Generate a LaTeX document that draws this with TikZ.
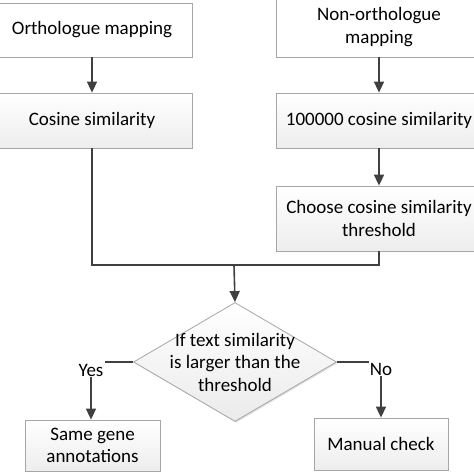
\documentclass[tikz,border=0pt]{standalone}
\usepackage{fontspec}
\setmainfont{Carlito}
\usetikzlibrary{arrows.meta,shapes.geometric,shadows}

\definecolor{boxline}{HTML}{A6A6A6}
\definecolor{arrowgray}{HTML}{404040}

\begin{document}
\begin{tikzpicture}[x=1pt,y=-1pt,
  font=\fontsize{19}{22.5}\selectfont,
  box/.style={draw=boxline, line width=0.8pt, align=center, inner sep=0pt,
    top color=white, bottom color=gray!14,
    drop shadow={shadow xshift=1.2pt, shadow yshift=-1.2pt, opacity=0.25}},
  plainbox/.style={box, top color=white, bottom color=white},
  decision/.style={diamond, draw=boxline, line width=0.8pt, align=center,
    inner sep=-22pt, minimum width=203pt, minimum height=119pt,
    top color=white, bottom color=gray!16,
    drop shadow={shadow xshift=1.2pt, shadow yshift=-1.2pt, opacity=0.25}},
  line/.style={draw=arrowgray, line width=1.6pt},
  arrow/.style={line, -{Triangle[length=11pt,width=10pt]}}]
\useasboundingbox (0,0) rectangle (474,474);
% left column
\node [plainbox, minimum width=200pt, minimum height=54pt] (om) at (92,30) {Orthologue mapping};
\node [box, minimum width=200pt, minimum height=55pt] (cs) at (92,120.5) {Cosine similarity};
% right column
\node [plainbox, minimum width=206pt, minimum height=60pt] (nm) at (379,27) {Non-orthologue\\mapping};
\node [box, minimum width=206pt, minimum height=55pt] (cs2) at (379,120.5) {100000 cosine similarity};
\node [box, minimum width=206pt, minimum height=65pt] (ct) at (379,218.5) {Choose cosine similarity\\threshold};
\coordinate (j) at (234,265);
% decision
\node [decision] (d) at (235,362) {If text similarity\\is larger than the\\threshold};
\node [inner sep=1pt] (yes) at (91,370) {Yes};
\node [inner sep=1pt] (no) at (381,369) {No};
\node [box, minimum width=135pt, minimum height=51pt] (same) at (92.5,445.5) {Same gene\\annotations};
\node [box, minimum width=134pt, minimum height=52pt] (man) at (381,444) {Manual check};
% connectors
\draw[arrow] (om) -- (cs);
\draw[arrow] (nm.south -| cs2) -- (cs2);
\draw[arrow] (cs2) -- (ct.north);
\draw[line] (cs.south) |- (j);
\draw[line] (ct.south) |- (j);
\draw[arrow] (j) -- (d.north);
\draw[line] (d.west) -- (d.west -| yes.east);
\draw[arrow] (yes.south) -- (same.north -| yes.south);
\draw[line] (d.east) -- (d.east -| no.west);
\draw[arrow] (no.south) -- (man.north -| no.south);
\end{tikzpicture}
\end{document}
